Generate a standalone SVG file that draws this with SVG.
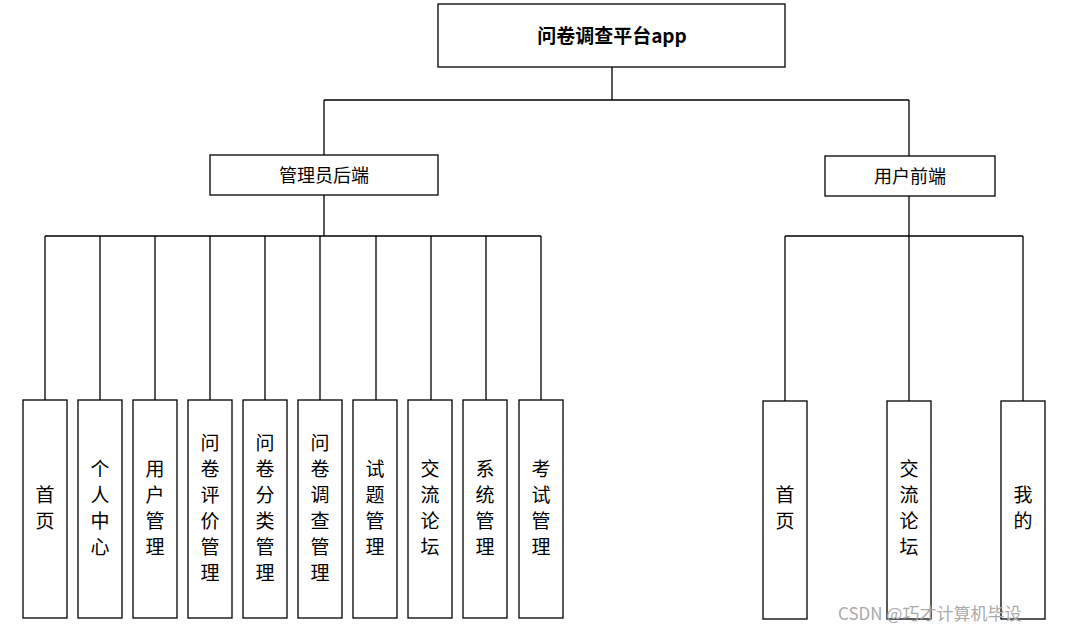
<svg xmlns="http://www.w3.org/2000/svg" width="1066" height="633" viewBox="0 0 1066 633">
<style>
rect{fill:#fff;stroke:#000;stroke-width:1.3}
.c path{fill:none;stroke:#000;stroke-width:1.3}
text{font-family:"Noto Sans CJK SC",sans-serif;font-size:18px;text-anchor:middle;fill:#000}
.v text{font-size:19px}
</style>
<rect width="1066" height="633" style="stroke:none"/>
<g class="c">
<path d="M612 67V100M324 100H909M324 100V155M909 100V156"/>
<path d="M324 195V236M45 236H541M45 236V400M100 236V400M155 236V400M210 236V400M265 236V400M320 236V400M376 236V400M431 236V400M486 236V400M541 236V400"/>
<path d="M909 196V236M785 236H1023M785 236V401M909 236V401M1023 236V401"/>
</g>
<g id="root"><rect x="438" y="4" width="347" height="63"/><text x="612" y="43" style="font-weight:bold;font-size:19px">问卷调查平台app</text></g>
<g id="admin"><rect x="210" y="155" width="228" height="40"/><text x="324" y="182">管理员后端</text></g>
<g id="user"><rect x="825" y="156" width="170" height="40"/><text x="910" y="183">用户前端</text></g>
<g class="v">
<g id="a1"><rect x="23" y="400" width="44" height="218"/><text x="45" y="502">首</text><text x="45" y="528">页</text></g>
<g id="a2"><rect x="78" y="400" width="44" height="218"/><text x="100" y="476">个</text><text x="100" y="502">人</text><text x="100" y="528">中</text><text x="100" y="554">心</text></g>
<g id="a3"><rect x="133" y="400" width="44" height="218"/><text x="155" y="476">用</text><text x="155" y="502">户</text><text x="155" y="528">管</text><text x="155" y="554">理</text></g>
<g id="a4"><rect x="188" y="400" width="44" height="218"/><text x="210" y="450">问</text><text x="210" y="476">卷</text><text x="210" y="502">评</text><text x="210" y="528">价</text><text x="210" y="554">管</text><text x="210" y="580">理</text></g>
<g id="a5"><rect x="243" y="400" width="44" height="218"/><text x="265" y="450">问</text><text x="265" y="476">卷</text><text x="265" y="502">分</text><text x="265" y="528">类</text><text x="265" y="554">管</text><text x="265" y="580">理</text></g>
<g id="a6"><rect x="298" y="400" width="44" height="218"/><text x="320" y="450">问</text><text x="320" y="476">卷</text><text x="320" y="502">调</text><text x="320" y="528">查</text><text x="320" y="554">管</text><text x="320" y="580">理</text></g>
<g id="a7"><rect x="353" y="400" width="44" height="218"/><text x="375" y="476">试</text><text x="375" y="502">题</text><text x="375" y="528">管</text><text x="375" y="554">理</text></g>
<g id="a8"><rect x="408" y="400" width="44" height="218"/><text x="430" y="476">交</text><text x="430" y="502">流</text><text x="430" y="528">论</text><text x="430" y="554">坛</text></g>
<g id="a9"><rect x="463" y="400" width="44" height="218"/><text x="485" y="476">系</text><text x="485" y="502">统</text><text x="485" y="528">管</text><text x="485" y="554">理</text></g>
<g id="a10"><rect x="519" y="400" width="44" height="218"/><text x="541" y="476">考</text><text x="541" y="502">试</text><text x="541" y="528">管</text><text x="541" y="554">理</text></g>
<g id="u1"><rect x="763" y="401" width="44" height="218"/><text x="785" y="502">首</text><text x="785" y="528">页</text></g>
<g id="u2"><rect x="887" y="401" width="44" height="218"/><text x="909" y="476">交</text><text x="909" y="502">流</text><text x="909" y="528">论</text><text x="909" y="554">坛</text></g>
<g id="u3"><rect x="1001" y="401" width="44" height="218"/><text x="1023" y="502">我</text><text x="1023" y="528">的</text></g>
</g>
<text x="838" y="620" style="text-anchor:start;font-size:17px;fill:#aaa">CSDN @巧才计算机毕设</text>
</svg>
